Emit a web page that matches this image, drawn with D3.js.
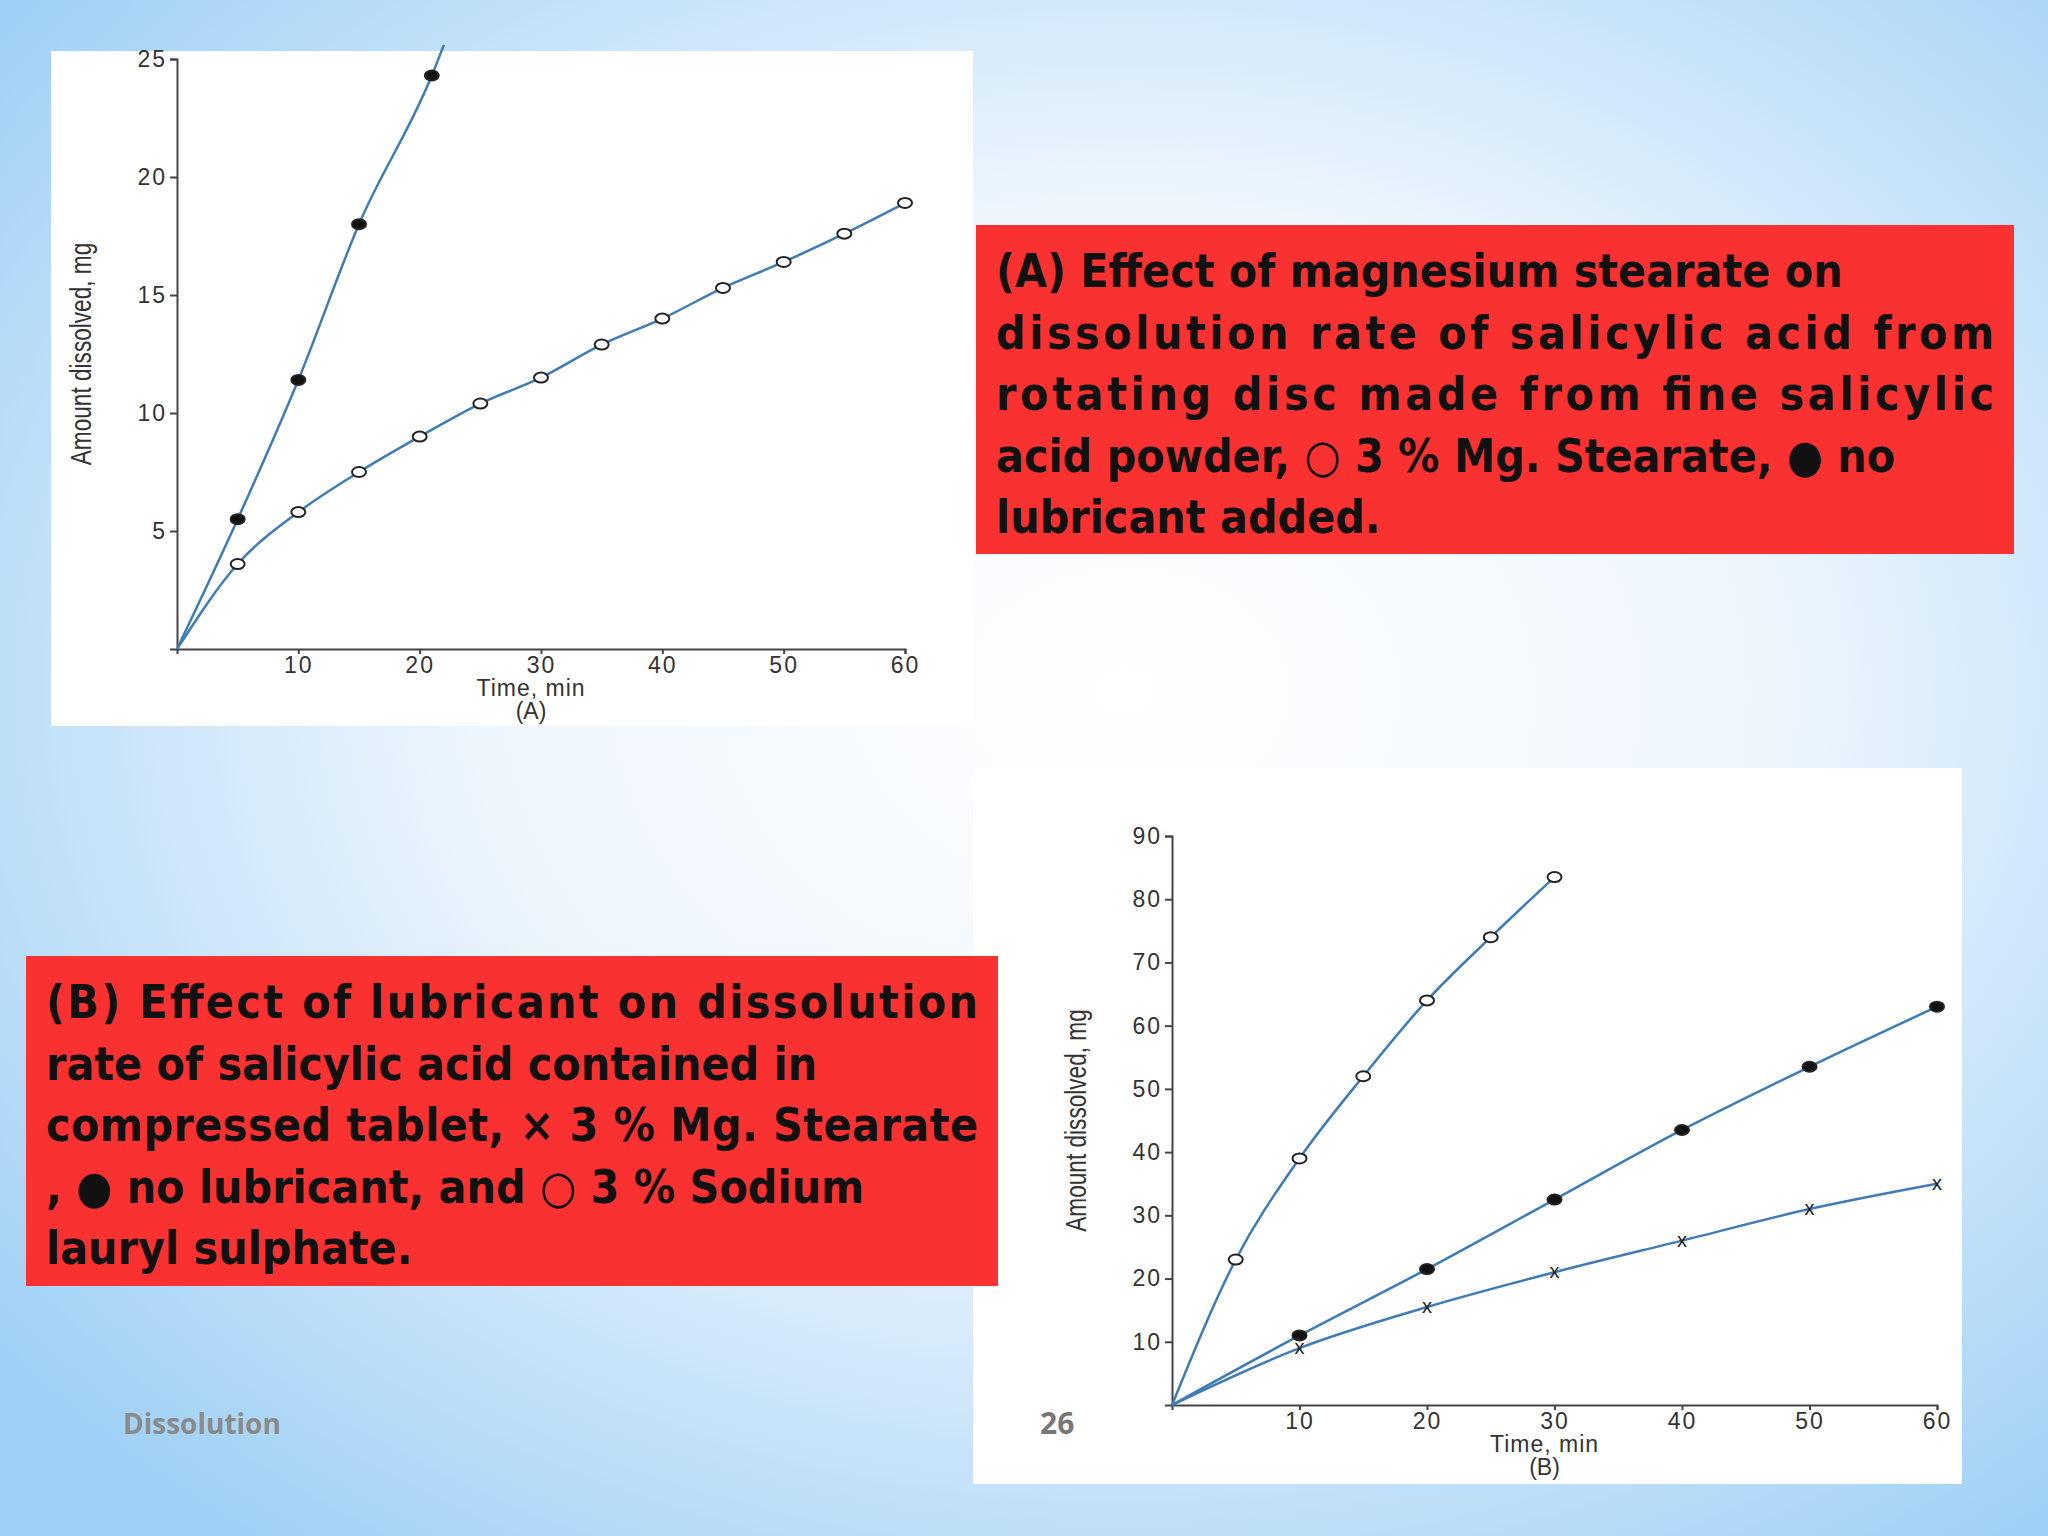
<!DOCTYPE html>
<html><head><meta charset="utf-8">
<script src="https://cdn.jsdelivr.net/npm/d3@7/dist/d3.min.js"></script>
<style>body{margin:0;overflow:hidden}</style>
</head><body>
<script>
'use strict'
// chart A data
const timeA = [5,10,15,20,25,30,35,40,45,50,55,60]
const mgStearateA = [3.6,5.8,7.5,9,10.4,11.5,12.9,14,15.3,16.4,17.6,18.9]
const timeA2 = [5,10,15,21]
const noLubA = [5.5,11.4,18,24.3]
// chart B data
const timeB1 = [5,10,15,20,25,30]
const slsB = [23,39,52,64,74,83.5]
const timeB = [10,20,30,40,50,60]
const noLubB = [11,21.5,32.5,43.5,53.5,63]
const mgStearateB = [9,15.5,21,26,31,35]
const ticksX = [10,20,30,40,50,60]
const ticksA = [5,10,15,20,25]
const ticksB = [10,20,30,40,50,60,70,80,90]

const W = 2048, H = 1536
const svg = d3.select('body').append('svg').attr('width', W).attr('height', H)
const defs = svg.append('defs')
const g1 = defs.append('radialGradient').attr('id','bg').attr('cx','55%').attr('cy','45%').attr('r','70%')
g1.append('stop').attr('offset','0%').attr('stop-color','#ffffff')
g1.append('stop').attr('offset','45%').attr('stop-color','#eef6fd')
g1.append('stop').attr('offset','100%').attr('stop-color','#9fd0f5')
svg.append('rect').attr('width', W).attr('height', H).attr('fill','url(#bg)')

const blue = '#3f7cb5'
const fam = 'Liberation Sans, Arial'
function chart(opt){
  const g = svg.append('g')
  g.append('rect').attr('x',opt.panel[0]).attr('y',opt.panel[1])
    .attr('width',opt.panel[2]-opt.panel[0]).attr('height',opt.panel[3]-opt.panel[1]).attr('fill','#fff')
  const x = d3.scaleLinear().domain([0,60]).range(opt.xr)
  const y = d3.scaleLinear().domain([0,opt.ymax]).range(opt.yr)
  const ax = g.append('g').attr('transform',`translate(0,${opt.yr[0]})`)
    .call(d3.axisBottom(x).tickValues(ticksX).tickSize(5).tickPadding(3))
  const ay = g.append('g').attr('transform',`translate(${opt.xr[0]},0)`)
    .call(d3.axisLeft(y).tickValues(opt.yticks).tickSize(7).tickPadding(3))
  ;[ax,ay].forEach(a=>{
    a.selectAll('text').attr('font-family',fam).attr('font-size',23)
      .attr('fill','#333').style('letter-spacing','2px')
    a.selectAll('line,path').attr('stroke','#444').attr('stroke-width',2)
  })
  const cx = (opt.xr[0]+opt.xr[1])/2 - 10
  g.append('text').attr('x',cx).attr('y',opt.yr[0]+47).attr('text-anchor','middle').style('letter-spacing','1px')
    .attr('font-family',fam).attr('font-size',23).attr('fill','#333').text('Time, min')
  g.append('text').attr('x',cx).attr('y',opt.yr[0]+70).attr('text-anchor','middle')
    .attr('font-family',fam).attr('font-size',23).attr('fill','#333').text(opt.label)
  g.append('text').attr('transform',`translate(${opt.xr[0]-86},${(opt.yr[0]+opt.yr[1])/2}) rotate(-90) scale(0.78,1)`)
    .attr('text-anchor','middle').attr('font-family',fam).attr('font-size',29)
    .attr('fill','#333').text('Amount dissolved, mg')
  const line = d3.line().x(d=>x(d[0])).y(d=>y(d[1])).curve(d3.curveMonotoneX)
  opt.series.forEach(s=>{
    const pts = [[0,0]].concat(s.t.map((t,i)=>[t,s.v[i]]))
    if (s.ext) pts.push(s.ext)
    g.append('path').attr('d',line(pts)).attr('fill','none').attr('stroke',blue).attr('stroke-width',2.5)
    const m = g.selectAll(null).data(s.t.map((t,i)=>[t,s.v[i]])).enter().append('g')
      .attr('transform',d=>`translate(${x(d[0])},${y(d[1])})`)
    if (s.kind==='x'){
      m.append('text').attr('text-anchor','middle').attr('dy',6).attr('font-family',fam)
        .attr('font-size',20).attr('fill','#222').text('x')
    } else {
      m.append('ellipse').attr('rx',7).attr('ry',5)
        .attr('fill',s.kind==='filled'?'#111':'#fff').attr('stroke','#222').attr('stroke-width',2)
    }
  })
}

chart({panel:[51,51,973,726], xr:[177,905], yr:[649,59], ymax:25, yticks:ticksA, label:'(A)',
  series:[{t:timeA2,v:noLubA,kind:'filled',ext:[22,25.6]},{t:timeA,v:mgStearateA,kind:'open'}]})
chart({panel:[973,768,1962,1484], xr:[1172,1937], yr:[1405,836], ymax:90, yticks:ticksB, label:'(B)',
  series:[{t:timeB1,v:slsB,kind:'open'},{t:timeB,v:noLubB,kind:'filled'},{t:timeB,v:mgStearateB,kind:'x'}]})

function box(x0,y0,x1,y1,lines){
  svg.append('rect').attr('x',x0).attr('y',y0).attr('width',x1-x0).attr('height',y1-y0).attr('fill','#f93131')
  const t = svg.append('text').attr('font-family','DejaVu Sans Condensed, DejaVu Sans').attr('font-weight','bold')
    .attr('font-size',46).attr('fill','#111')
  lines.forEach((l,i)=>t.append('tspan').attr('x',x0+20).attr('y',y0+62+i*61.5)
    .attr('textLength',l[1]?x1-x0-40:null).attr('lengthAdjust','spacing').text(l[0]))
}
box(976,225,2014,554,[
  ['(A) Effect  of  magnesium stearate on',0],
  ['dissolution  rate  of  salicylic  acid  from',1],
  ['rotating  disc  made  from  fine  salicylic',1],
  ['acid  powder, \u25CB 3 % Mg. Stearate,  \u25CF no',0],
  ['lubricant  added.',0]])
box(26,956,998,1286,[
  ['(B) Effect  of  lubricant  on  dissolution',1],
  ['rate  of  salicylic  acid  contained  in',0],
  ['compressed  tablet, \u00D7 3 % Mg. Stearate',1],
  [', \u25CF no  lubricant,  and  \u25CB 3 %  Sodium',0],
  ['lauryl  sulphate.',0]])

svg.append('text').attr('x',123).attr('y',1434).attr('font-family','Open Sans').attr('font-weight','bold')
  .attr('font-size',28).attr('fill','#8a8a8a').text('Dissolution')
svg.append('text').attr('x',1040).attr('y',1434).attr('font-family','Open Sans').attr('font-weight','bold')
  .attr('font-size',30).attr('fill','#777').text('26')
</script>
</body></html>
